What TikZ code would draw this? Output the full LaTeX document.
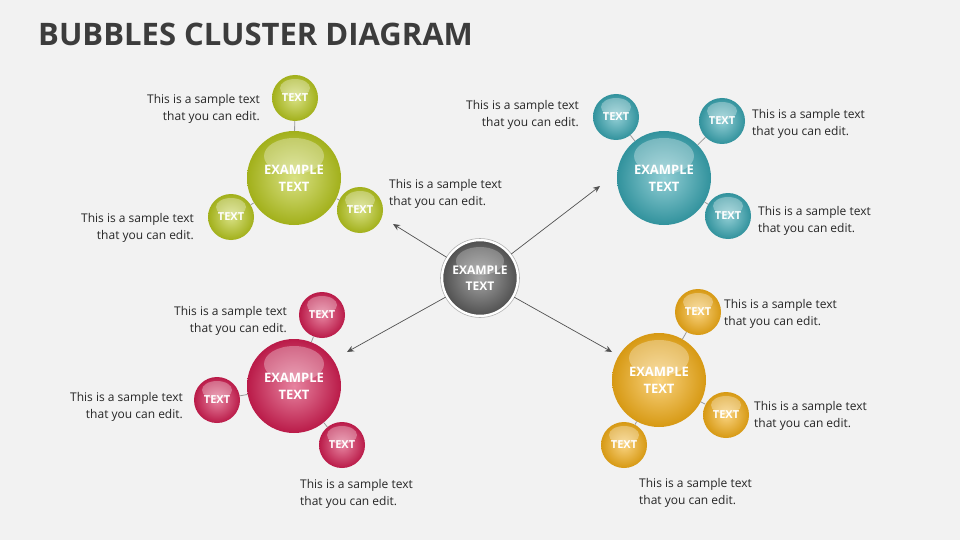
\documentclass[tikz,border=0pt]{standalone}
\usepackage{fontspec}
\setmainfont{Open Sans}
\usetikzlibrary{arrows.meta}
\definecolor{bg}{HTML}{F2F2F2}
\definecolor{cgreen}{HTML}{B8C81E}
\definecolor{cteal}{HTML}{38A6B2}
\definecolor{cred}{HTML}{D31E52}
\definecolor{corange}{HTML}{F4AE16}
\definecolor{cgray}{HTML}{5A5A5A}
\definecolor{ctext}{HTML}{262626}
\tikzset{
  bub/.style={circle,inner sep=0pt,shading=radial,inner color=#1!55!white,outer color=#1!88!black,text=white,align=center},
  big/.style={bub=#1,minimum size=94pt,font=\fontsize{13}{17}\selectfont\bfseries,
    path picture={\fill[white,opacity=0.3] ([yshift=22pt]path picture bounding box.center) ellipse [x radius=30pt,y radius=18pt];}},
  small/.style={bub=#1,minimum size=46pt,font=\fontsize{11}{13}\selectfont\bfseries,
    path picture={\fill[white,opacity=0.3] ([yshift=10pt]path picture bounding box.center) ellipse [x radius=15pt,y radius=9pt];}},
  link/.style={draw=gray!80,line width=0.8pt},
  arr/.style={draw=ctext!80,line width=0.7pt,-{Stealth[length=7pt,width=6pt]}},
  txtR/.style={anchor=north east,align=right,font=\fontsize{12}{17}\selectfont,text=ctext,inner sep=0pt},
  txtL/.style={anchor=north west,align=left,font=\fontsize{12}{17}\selectfont,text=ctext,inner sep=0pt},
}
\newcommand{\samp}{This is a sample text\\that you can edit.}
\begin{document}
\begin{tikzpicture}[x=1pt,y=-1pt]
\fill[bg] (0,0) rectangle (960,540);
\useasboundingbox (0,0) rectangle (960,540);
\node[anchor=west,font=\fontsize{31}{36}\selectfont\bfseries,text=ctext!90,inner sep=0pt] (title) at (38,34) {BUBBLES CLUSTER DIAGRAM};

% center
\node[bub=cgray,minimum size=76pt,draw=white,line width=2.5pt,font=\fontsize{12}{16}\selectfont\bfseries,
  path picture={\fill[white,opacity=0.25] ([yshift=17pt]path picture bounding box.center) ellipse [x radius=24pt,y radius=14pt];}] (c) at (480,278) {EXAMPLE\\TEXT};
\draw[gray!60,line width=0.6pt] (c.center) circle (39.5pt);

% green
\node[big=cgreen] (g) at (294,178) {EXAMPLE\\TEXT};
\node[small=cgreen] (g1) at (295,98) {TEXT};
\node[small=cgreen] (g2) at (231,217) {TEXT};
\node[small=cgreen] (g3) at (360,210) {TEXT};
% teal
\node[big=cteal] (t) at (664,178) {EXAMPLE\\TEXT};
\node[small=cteal] (t1) at (616,117) {TEXT};
\node[small=cteal] (t2) at (722,121) {TEXT};
\node[small=cteal] (t3) at (728,216) {TEXT};
% red
\node[big=cred] (r) at (294,386) {EXAMPLE\\TEXT};
\node[small=cred] (r1) at (322,315) {TEXT};
\node[small=cred] (r2) at (217,400) {TEXT};
\node[small=cred] (r3) at (342,445) {TEXT};
% orange
\node[big=corange] (o) at (659,380) {EXAMPLE\\TEXT};
\node[small=corange] (o1) at (698,312) {TEXT};
\node[small=corange] (o2) at (726,415) {TEXT};
\node[small=corange] (o3) at (624,445) {TEXT};

\foreach \a/\b in {g/g1,g/g2,g/g3,t/t1,t/t2,t/t3,r/r1,r/r2,r/r3,o/o1,o/o2,o/o3}
  \draw[link] (\a) -- (\b);

\coordinate (ag) at (393,224);
\coordinate (at) at (600,186);
\coordinate (ar) at (347,352);
\coordinate (ao) at (612,352);
\draw[arr] (c) -- (ag);
\draw[arr] (c) -- (at);
\draw[arr] (c) -- (ar);
\draw[arr] (c) -- (ao);

% texts
\node[txtR] (tg1) at (260,94) {\samp};
\node[txtR] (tg2) at (194,213) {\samp};
\node[txtL] (tg3) at (389,179) {\samp};
\node[txtR] (tt1) at (579,100) {\samp};
\node[txtL] (tt2) at (752,109) {\samp};
\node[txtL] (tt3) at (758,206) {\samp};
\node[txtR] (tr1) at (287,306) {\samp};
\node[txtR] (tr2) at (183,392) {\samp};
\node[txtL] (tr3) at (300,479) {\samp};
\node[txtL] (to1) at (724,299) {\samp};
\node[txtL] (to2) at (754,401) {\samp};
\node[txtL] (to3) at (639,478) {\samp};
\end{tikzpicture}
\end{document}
